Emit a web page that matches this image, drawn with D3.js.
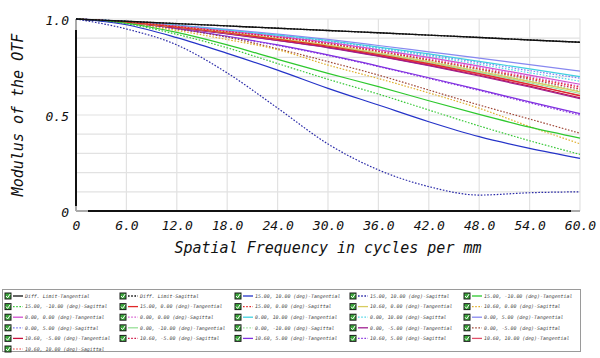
<!DOCTYPE html>
<html><head><meta charset="utf-8">
<script src="https://cdn.jsdelivr.net/npm/d3@7"></script>
<style>
html,body{margin:0;padding:0;background:#fff;}
svg{display:block;}
</style></head>
<body>
<svg id="chart" width="600" height="358"></svg>
<script>
// ---------- data ----------
const freqs = [0, 6, 12, 18, 24, 30, 36, 42, 48, 54, 60];
const xTickValues = [0, 6, 12, 18, 24, 30, 36, 42, 48, 54, 60];
const xTickLabels = ["0", "6.0", "12.0", "18.0", "24.0", "30.0", "36.0", "42.0", "48.0", "54.0", "60.0"];
const yTickValues = [0, 0.5, 1.0];
const yTickLabels = ["0", "0.5", "1.0"];

const diffLimitT = [1, .988, .976, .964, .952, .940, .928, .916, .904, .891, .879];
const diffLimitS = [1, .988, .976, .964, .952, .940, .928, .916, .904, .891, .879];
const f15p10T = [1, .970, .903, .821, .734, .639, .552, .465, .387, .326, .274];
const f15p10S = [1, .948, .865, .719, .536, .349, .214, .127, .083, .095, .100];
const f15m10T = [1, .978, .930, .865, .790, .717, .648, .574, .503, .437, .380];
const f15m10S = [1, .975, .920, .850, .768, .686, .609, .526, .443, .366, .295];
const f15p0T = [1, .983, .957, .927, .894, .858, .815, .768, .716, .660, .600];
const f15p0S = [1, .985, .961, .934, .905, .872, .832, .788, .741, .693, .645];
const f106p0T = [1, .984, .959, .930, .898, .864, .823, .778, .728, .675, .620];
const f106p0S = [1, .978, .940, .893, .840, .760, .690, .615, .535, .440, .350];
const f0p0T = [1, .986, .963, .937, .909, .878, .840, .800, .755, .708, .660];
const f0p0S = [1, .985, .962, .936, .907, .875, .836, .794, .748, .700, .650];
const f0p10T = [1, .987, .966, .942, .916, .888, .854, .818, .779, .740, .700];
const f0p10S = [1, .986, .964, .939, .912, .882, .846, .807, .764, .720, .676];
const f0p5T = [1, .988, .968, .946, .921, .894, .862, .829, .796, .762, .729];
const f0p5S = [1, .987, .966, .942, .915, .886, .851, .813, .773, .731, .692];
const f0m10T = [1, .984, .958, .928, .895, .860, .818, .772, .722, .668, .612];
const f0m10S = [1, .984, .960, .931, .899, .866, .826, .782, .734, .681, .626];
const f0m5T = [1, .982, .955, .923, .888, .850, .806, .757, .703, .646, .585];
const f0m5S = [1, .980, .948, .905, .845, .778, .708, .630, .552, .479, .405];
const f106m5T = [1, .982, .955, .924, .889, .852, .808, .760, .707, .650, .590];
const f106m5S = [1, .985, .960, .933, .903, .869, .829, .784, .736, .686, .635];
const f106p5T = [1, .982, .950, .910, .865, .813, .755, .694, .632, .568, .507];
const f106p5S = [1, .981, .949, .908, .862, .810, .752, .690, .628, .563, .500];
const f106p10T = [1, .983, .957, .926, .892, .855, .812, .765, .713, .658, .603];
const f106p10S = [1, .984, .959, .929, .896, .861, .820, .775, .726, .675, .625];

const seriesLabels = [
  "Diff. Limit-Tangential", "Diff. Limit-Sagittal",
  "15.00, 10.00 (deg)-Tangential", "15.00, 10.00 (deg)-Sagittal",
  "15.00, -10.00 (deg)-Tangential", "15.00, -10.00 (deg)-Sagittal",
  "15.00, 0.00 (deg)-Tangential", "15.00, 0.00 (deg)-Sagittal",
  "10.60, 0.00 (deg)-Tangential", "10.60, 0.00 (deg)-Sagittal",
  "0.00, 0.00 (deg)-Tangential", "0.00, 0.00 (deg)-Sagittal",
  "0.00, 10.00 (deg)-Tangential", "0.00, 10.00 (deg)-Sagittal",
  "0.00, 5.00 (deg)-Tangential", "0.00, 5.00 (deg)-Sagittal",
  "0.00, -10.00 (deg)-Tangential", "0.00, -10.00 (deg)-Sagittal",
  "0.00, -5.00 (deg)-Tangential", "0.00, -5.00 (deg)-Sagittal",
  "10.60, -5.00 (deg)-Tangential", "10.60, -5.00 (deg)-Sagittal",
  "10.60, 5.00 (deg)-Tangential", "10.60, 5.00 (deg)-Sagittal",
  "10.60, 10.00 (deg)-Tangential", "10.60, 10.00 (deg)-Sagittal"
];
const seriesValues = [
  diffLimitT, diffLimitS, f15p10T, f15p10S, f15m10T, f15m10S, f15p0T, f15p0S,
  f106p0T, f106p0S, f0p0T, f0p0S, f0p10T, f0p10S, f0p5T, f0p5S,
  f0m10T, f0m10S, f0m5T, f0m5S, f106m5T, f106m5S, f106p5T, f106p5S, f106p10T, f106p10S
];

// ---------- styles ----------
const seriesColors = [
  "#111111", "#111111", "#2533c8", "#2a2aa8", "#2ec82e", "#3ac83a", "#e02828", "#e02828",
  "#d8cc60", "#e0b030", "#d050d0", "#d860d0", "#40d0e0", "#50d8e8", "#8888f0", "#7c7cf0",
  "#98e098", "#a0e0a0", "#a02090", "#a04838", "#c8103c", "#d01848", "#8030e0", "#8a38e0",
  "#e0506a", "#f08080"
];
const seriesDotted = seriesLabels.map(l => /Sagittal$/.test(l));

const W = 600, H = 358;
const plot = {left: 76, right: 580, top: 19, bottom: 211};
const mono = "'DejaVu Sans Mono', 'Liberation Mono', monospace";

const svg = d3.select("#chart");
const x = d3.scaleLinear().domain([0, 60]).range([plot.left, plot.right]);
const y = d3.scaleLinear().domain([0, 1]).range([plot.bottom, plot.top]);

// grid
const g = svg.append("g");
g.selectAll("line.vg").data(d3.range(0, 61, 6)).join("line")
  .attr("x1", d => x(d)).attr("x2", d => x(d))
  .attr("y1", plot.top).attr("y2", plot.bottom)
  .attr("stroke", "#e2e2e2").attr("stroke-width", 1.2);
g.selectAll("line.hg").data(d3.range(0, 11).map(i => i / 10)).join("line")
  .attr("x1", plot.left).attr("x2", plot.right)
  .attr("y1", d => y(d)).attr("y2", d => y(d))
  .attr("stroke", "#e2e2e2").attr("stroke-width", 1.2);

// frame: gray ends, black body
g.append("line").attr("x1", plot.left).attr("x2", plot.left).attr("y1", plot.top).attr("y2", plot.bottom)
  .attr("stroke", "#aaa").attr("stroke-width", 2);
g.append("line").attr("x1", plot.left).attr("x2", plot.right).attr("y1", plot.bottom).attr("y2", plot.bottom)
  .attr("stroke", "#aaa").attr("stroke-width", 2);
g.append("line").attr("x1", plot.left).attr("x2", plot.left).attr("y1", plot.top + 11).attr("y2", plot.bottom - 5)
  .attr("stroke", "#111").attr("stroke-width", 2);
g.append("line").attr("x1", plot.left + 12).attr("x2", plot.right - 9).attr("y1", plot.bottom).attr("y2", plot.bottom)
  .attr("stroke", "#111").attr("stroke-width", 2);

// axes labels via d3 axes
const xAxis = d3.axisBottom(x).tickValues(xTickValues).tickSize(0).tickPadding(0)
  .tickFormat((d, i) => xTickLabels[i]);
const xa = svg.append("g").attr("transform", `translate(0,${plot.bottom + 10})`).call(xAxis);
xa.select(".domain").remove();
xa.selectAll("text").attr("font-family", mono).attr("font-style", "italic")
  .attr("font-size", 13).attr("fill", "#111").attr("dy", "0.71em");

const yAxis = d3.axisLeft(y).tickValues(yTickValues).tickSize(0).tickPadding(0)
  .tickFormat((d, i) => yTickLabels[i]);
const ya = svg.append("g").attr("transform", `translate(${plot.left - 7},1)`).call(yAxis);
ya.select(".domain").remove();
ya.selectAll("text").attr("font-family", mono).attr("font-style", "italic")
  .attr("font-size", 13).attr("fill", "#111");

svg.append("text").attr("x", (plot.left + plot.right) / 2).attr("y", 253)
  .attr("text-anchor", "middle").attr("font-family", mono).attr("font-style", "italic")
  .attr("font-size", 15).attr("fill", "#111").text("Spatial Frequency in cycles per mm");
svg.append("text").attr("transform", `translate(23,${(plot.top + plot.bottom) / 2}) rotate(-90)`)
  .attr("text-anchor", "middle").attr("font-family", mono).attr("font-style", "italic")
  .attr("font-size", 15).attr("fill", "#111").text("Modulus of the OTF");

// curves
const line = d3.line().x((d, i) => x(freqs[i])).y(d => y(d)).curve(d3.curveMonotoneX);
const order = d3.range(seriesValues.length).reverse();
svg.append("g").selectAll("path").data(order).join("path")
  .attr("d", i => line(seriesValues[i]))
  .attr("fill", "none")
  .attr("stroke", i => seriesColors[i])
  .attr("stroke-width", i => i < 2 ? 1.4 : 1.2)
  .attr("stroke-dasharray", i => seriesDotted[i] ? "1.6,1.6" : null);

// legend
const leg = svg.append("g");
leg.append("rect").attr("x", 2.5).attr("y", 289.5).attr("width", 578).attr("height", 62)
  .attr("fill", "#fff").attr("stroke", "#9a9a9a").attr("stroke-width", 1);
const colX = [4, 119, 234, 349, 463];
const rowY = [296, 306.6, 317.2, 327.8, 338.4, 349];
const items = leg.selectAll("g.item").data(seriesLabels).join("g")
  .attr("transform", (d, i) => `translate(${colX[i % 5]},${rowY[Math.floor(i / 5)]})`);
items.append("rect").attr("x", 0.5).attr("y", -3.5).attr("width", 7).attr("height", 7)
  .attr("fill", "#1d1d1d");
items.append("rect").attr("x", 1.5).attr("y", -2.5).attr("width", 5).attr("height", 5)
  .attr("fill", "#3aa63a");
items.append("path").attr("d", "M2,0 L3.6,1.8 L6.2,-2")
  .attr("fill", "none").attr("stroke", "#fff").attr("stroke-width", 1);
items.append("line").attr("x1", 9).attr("x2", 19).attr("y1", 0).attr("y2", 0)
  .attr("stroke", (d, i) => seriesColors[i]).attr("stroke-width", 1.3)
  .attr("stroke-dasharray", (d, i) => seriesDotted[i] ? "1.6,1.6" : null);
items.append("text").attr("x", 21).attr("y", 1.8)
  .attr("font-family", mono).attr("font-style", "italic").attr("font-size", 4.9)
  .attr("fill", "#444").text(d => d);
</script>
</body></html>
